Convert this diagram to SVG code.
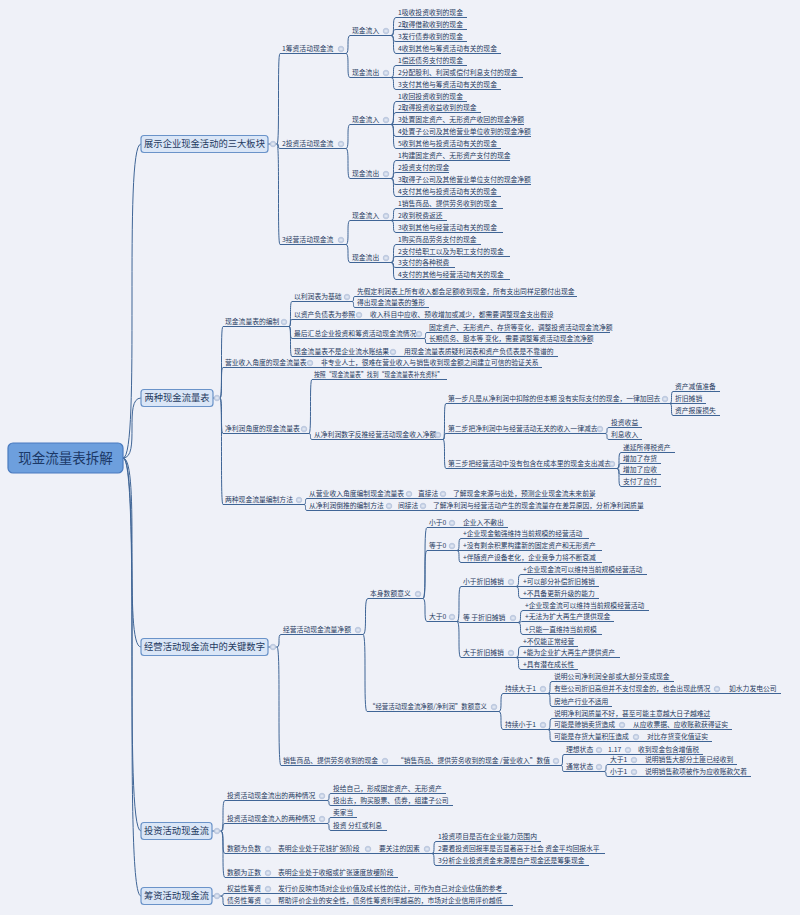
<svg xmlns="http://www.w3.org/2000/svg" width="800" height="915" viewBox="0 0 800 915">
<defs>
<style>
.t{font-family:"Noto Sans CJK SC","Noto Sans",sans-serif;font-size:6.8px;fill:#1f3a60}
.bt{font-family:"Noto Sans CJK SC","Noto Sans",sans-serif;font-size:9.3px;fill:#1f3a60;text-anchor:middle}
.u{stroke:#3f6596;stroke-width:1;fill:none}
.k{stroke:#3f6596;stroke-width:1;fill:none}
.b{fill:#dae6f7;stroke:#6a93c9;stroke-width:1.2}
</style>
<g id="tg"><circle r="2.8" fill="#c8d3e6" stroke="#aab9d3" stroke-width="0.6"/><path d="M-1.4,0H1.4" stroke="#ffffff" stroke-width="0.8"/></g>
</defs>
<rect width="800" height="915" fill="#eff1f8"/>

<g id="connectors" class="k">
<path d="M123,458C141,458 123,144 141,144"/>
<path d="M123,458C141,458 123,398 141,398"/>
<path d="M123,458C141,458 123,647 141,647"/>
<path d="M123,458C141,458 123,831 141,831"/>
<path d="M123,458C141,458 123,896 141,896"/>
<path d="M268,144H277"/>
<path d="M277,144C280,144 277,53.5 280,53.5"/>
<path d="M277,144C280,144 277,148.5 280,148.5"/>
<path d="M277,144C280,144 277,244.5 280,244.5"/>
<path d="M346,53.5C350,53.5 346,35.5 350,35.5"/>
<path d="M346,53.5C350,53.5 346,77.5 350,77.5"/>
<path d="M391,35.5C396,35.5 391,17.5 396,17.5"/>
<path d="M391,35.5C396,35.5 391,29.5 396,29.5"/>
<path d="M391,35.5C396,35.5 391,41.5 396,41.5"/>
<path d="M391,35.5C396,35.5 391,53.5 396,53.5"/>
<path d="M391,77.5C396,77.5 391,65.5 396,65.5"/>
<path d="M391,77.5H396"/>
<path d="M391,77.5C396,77.5 391,89.5 396,89.5"/>
<path d="M346,148.5C350,148.5 346,124.5 350,124.5"/>
<path d="M346,148.5C350,148.5 346,178.5 350,178.5"/>
<path d="M391,124.5C396,124.5 391,101.5 396,101.5"/>
<path d="M391,124.5C396,124.5 391,112.5 396,112.5"/>
<path d="M391,124.5H396"/>
<path d="M391,124.5C396,124.5 391,136.5 396,136.5"/>
<path d="M391,124.5C396,124.5 391,148.5 396,148.5"/>
<path d="M391,178.5C396,178.5 391,160.5 396,160.5"/>
<path d="M391,178.5C396,178.5 391,172.5 396,172.5"/>
<path d="M391,178.5C396,178.5 391,184.5 396,184.5"/>
<path d="M391,178.5C396,178.5 391,196.5 396,196.5"/>
<path d="M346,244.5C350,244.5 346,220.5 350,220.5"/>
<path d="M346,244.5C350,244.5 346,262.5 350,262.5"/>
<path d="M391,220.5C396,220.5 391,208.5 396,208.5"/>
<path d="M391,220.5H396"/>
<path d="M391,220.5C396,220.5 391,232.5 396,232.5"/>
<path d="M391,262.5C396,262.5 391,244.5 396,244.5"/>
<path d="M391,262.5C396,262.5 391,256.5 396,256.5"/>
<path d="M391,262.5C396,262.5 391,267.5 396,267.5"/>
<path d="M391,262.5C396,262.5 391,279.5 396,279.5"/>
<path d="M213,398H220"/>
<path d="M220,398C223,398 220,326.5 223,326.5"/>
<path d="M220,398C223,398 220,367.5 223,367.5"/>
<path d="M220,398C223,398 220,433.5 223,433.5"/>
<path d="M220,398C223,398 220,504.5 223,504.5"/>
<path d="M289,326.5C292,326.5 289,301.5 292,301.5"/>
<path d="M289,326.5C292,326.5 289,319.5 292,319.5"/>
<path d="M289,326.5C292,326.5 289,338.5 292,338.5"/>
<path d="M289,326.5C292,326.5 289,356.5 292,356.5"/>
<path d="M352,301.5C355,301.5 352,296.5 355,296.5"/>
<path d="M352,301.5C355,301.5 352,307.5 355,307.5"/>
<path d="M364,319.5H368"/>
<path d="M424,338.5C427,338.5 424,332.5 427,332.5"/>
<path d="M424,338.5C427,338.5 424,343.5 427,343.5"/>
<path d="M398,356.5H402"/>
<path d="M315,367.5H319"/>
<path d="M309,433.5C312,433.5 309,379.5 312,379.5"/>
<path d="M309,433.5C312,433.5 309,439.5 312,439.5"/>
<path d="M443,439.5C446,439.5 443,403.5 446,403.5"/>
<path d="M443,439.5C446,439.5 443,433.5 446,433.5"/>
<path d="M443,439.5C446,439.5 443,468.5 446,468.5"/>
<path d="M670,403.5C673,403.5 670,391.5 673,391.5"/>
<path d="M670,403.5H673"/>
<path d="M670,403.5C673,403.5 670,415.5 673,415.5"/>
<path d="M605,433.5C609,433.5 605,427.5 609,427.5"/>
<path d="M605,433.5C609,433.5 605,439.5 609,439.5"/>
<path d="M617,468.5C621,468.5 617,452.5 621,452.5"/>
<path d="M617,468.5C621,468.5 617,463.5 621,463.5"/>
<path d="M617,468.5C621,468.5 617,474.5 621,474.5"/>
<path d="M617,468.5C621,468.5 617,486.5 621,486.5"/>
<path d="M304,504.5C307,504.5 304,498.5 307,498.5"/>
<path d="M304,504.5C307,504.5 304,510.5 307,510.5"/>
<path d="M414,498.5H416"/>
<path d="M448,498.5H451"/>
<path d="M394,510.5H396"/>
<path d="M428,510.5H431"/>
<path d="M268,647H277"/>
<path d="M277,647C281,647 277,634.5 281,634.5"/>
<path d="M277,647C281,647 277,765.5 281,765.5"/>
<path d="M363,634.5C368,634.5 363,598.5 368,598.5"/>
<path d="M363,634.5C367,634.5 363,711.5 367,711.5"/>
<path d="M423,598.5C427,598.5 423,527.5 427,527.5"/>
<path d="M423,598.5C427,598.5 423,550.5 427,550.5"/>
<path d="M423,598.5C427,598.5 423,621.5 427,621.5"/>
<path d="M457,527.5H461"/>
<path d="M457,550.5C461,550.5 457,538.5 461,538.5"/>
<path d="M457,550.5H461"/>
<path d="M457,550.5C461,550.5 457,562.5 461,562.5"/>
<path d="M457,621.5C461,621.5 457,586.5 461,586.5"/>
<path d="M457,621.5C461,621.5 457,622.5 461,622.5"/>
<path d="M457,621.5C461,621.5 457,657.5 461,657.5"/>
<path d="M516,586.5C521,586.5 516,574.5 521,574.5"/>
<path d="M516,586.5H521"/>
<path d="M516,586.5C521,586.5 516,598.5 521,598.5"/>
<path d="M518,622.5C523,622.5 518,610.5 523,610.5"/>
<path d="M518,622.5C523,622.5 518,621.5 523,621.5"/>
<path d="M518,622.5C523,622.5 518,634.5 523,634.5"/>
<path d="M516,657.5C521,657.5 516,646.5 521,646.5"/>
<path d="M516,657.5H521"/>
<path d="M516,657.5C521,657.5 516,669.5 521,669.5"/>
<path d="M499,711.5C503,711.5 499,693.5 503,693.5"/>
<path d="M499,711.5C503,711.5 499,729.5 503,729.5"/>
<path d="M548,693.5C552,693.5 548,681.5 552,681.5"/>
<path d="M548,693.5H552"/>
<path d="M548,693.5C552,693.5 548,706.5 552,706.5"/>
<path d="M722,693.5H727"/>
<path d="M548,729.5C552,729.5 548,718.5 552,718.5"/>
<path d="M548,729.5H552"/>
<path d="M548,729.5C552,729.5 548,741.5 552,741.5"/>
<path d="M627,729.5H631"/>
<path d="M641,741.5H645"/>
<path d="M390,765.5H395"/>
<path d="M561,765.5C564,765.5 561,754.5 564,754.5"/>
<path d="M561,765.5C564,765.5 561,771.5 564,771.5"/>
<path d="M604,754.5H606"/>
<path d="M633,754.5H636"/>
<path d="M604,771.5C608,771.5 604,764.5 608,764.5"/>
<path d="M604,771.5C608,771.5 604,776.5 608,776.5"/>
<path d="M639,764.5H643"/>
<path d="M639,776.5H643"/>
<path d="M212,831H221"/>
<path d="M221,831C225,831 221,800.5 225,800.5"/>
<path d="M221,831C225,831 221,823.5 225,823.5"/>
<path d="M221,831C225,831 221,853.5 225,853.5"/>
<path d="M221,831C225,831 221,877.5 225,877.5"/>
<path d="M327,800.5C331,800.5 327,793.5 331,793.5"/>
<path d="M327,800.5C331,800.5 327,805.5 331,805.5"/>
<path d="M327,823.5C331,823.5 327,817.5 331,817.5"/>
<path d="M327,823.5C331,823.5 327,830.5 331,830.5"/>
<path d="M273,853.5H276"/>
<path d="M373,853.5H377"/>
<path d="M432,853.5C436,853.5 432,841.5 436,841.5"/>
<path d="M432,853.5H436"/>
<path d="M432,853.5C436,853.5 432,865.5 436,865.5"/>
<path d="M273,877.5H276"/>
<path d="M212,896H221"/>
<path d="M221,896C225,896 221,893.5 225,893.5"/>
<path d="M221,896C225,896 221,905.5 225,905.5"/>
<path d="M273,893.5H276"/>
<path d="M273,905.5H276"/>
</g>

<g id="root">
<rect x="8" y="443" width="115" height="30" rx="5" fill="#6d9fdd" stroke="#4a7bbf" stroke-width="1.2"/>
<text x="65.5" y="462.8" font-family="Noto Sans CJK SC,Noto Sans,sans-serif" font-size="13.5" fill="#1b3866" text-anchor="middle">现金流量表拆解</text>
</g>

<g id="b1"><rect class="b" x="141" y="135.5" width="127" height="17" rx="3"/><text class="bt" x="204.5" y="147.3">展示企业现金活动的三大板块</text><use href="#tg" x="273" y="144"/></g>
<g id="b2"><rect class="b" x="141" y="389.5" width="72" height="17" rx="3"/><text class="bt" x="177" y="401.3">两种现金流量表</text><use href="#tg" x="217" y="398"/></g>
<g id="b3"><rect class="b" x="141" y="638.5" width="127" height="17" rx="3"/><text class="bt" x="204.5" y="650.3">经营活动现金流中的关键数字</text><use href="#tg" x="273" y="647"/></g>
<g id="b4"><rect class="b" x="141" y="822.5" width="71" height="17" rx="3"/><text class="bt" x="176.5" y="834.3">投资活动现金流</text><use href="#tg" x="217" y="831"/></g>
<g id="b5"><rect class="b" x="141" y="887.5" width="71" height="17" rx="3"/><text class="bt" x="176.5" y="899.3">筹资活动现金流</text><use href="#tg" x="217" y="896"/></g>

<g id="a1"><text class="t" x="282" y="51.4">1筹资活动现金流</text><path class="u" d="M280,53.5H346"/><use href="#tg" x="341" y="49"/></g>
<g id="a1a"><text class="t" x="352" y="33.4">现金流入</text><path class="u" d="M350,35.5H391"/><use href="#tg" x="386" y="31"/></g>
<g id="a1a1"><text class="t" x="398" y="15.4">1吸收投资收到的现金</text><path class="u" d="M396,17.5H467"/></g>
<g id="a1a2"><text class="t" x="398" y="27.4">2取得借款收到的现金</text><path class="u" d="M396,29.5H467"/></g>
<g id="a1a3"><text class="t" x="398" y="39.4">3发行债券收到的现金</text><path class="u" d="M396,41.5H467"/></g>
<g id="a1a4"><text class="t" x="398" y="51.4">4收到其他与筹资活动有关的现金</text><path class="u" d="M396,53.5H501"/></g>
<g id="a1b"><text class="t" x="352" y="75.4">现金流出</text><path class="u" d="M350,77.5H391"/><use href="#tg" x="386" y="73"/></g>
<g id="a1b1"><text class="t" x="398" y="63.4">1偿还债务支付的现金</text><path class="u" d="M396,65.5H467"/></g>
<g id="a1b2"><text class="t" x="398" y="75.4">2分配股利、利润或偿付利息支付的现金</text><path class="u" d="M396,77.5H523"/></g>
<g id="a1b3"><text class="t" x="398" y="87.4">3支付其他与筹资活动有关的现金</text><path class="u" d="M396,89.5H501"/></g>

<g id="a2"><text class="t" x="282" y="146.4">2投资活动现金流</text><path class="u" d="M280,148.5H346"/><use href="#tg" x="341" y="144"/></g>
<g id="a2a"><text class="t" x="352" y="122.4">现金流入</text><path class="u" d="M350,124.5H391"/><use href="#tg" x="386" y="120"/></g>
<g id="a2a1"><text class="t" x="398" y="99.4">1收回投资收到的现金</text><path class="u" d="M396,101.5H467"/></g>
<g id="a2a2"><text class="t" x="398" y="110.4">2取得投资收益收到的现金</text><path class="u" d="M396,112.5H481"/></g>
<g id="a2a3"><text class="t" x="398" y="122.4">3处置固定资产、无形资产收回的现金净额</text><path class="u" d="M396,124.5H524"/></g>
<g id="a2a4"><text class="t" x="398" y="134.4">4处置子公司及其他营业单位收到的现金净额</text><path class="u" d="M396,136.5H531"/></g>
<g id="a2a5"><text class="t" x="398" y="146.4">5收到其他与投资活动有关的现金</text><path class="u" d="M396,148.5H501"/></g>
<g id="a2b"><text class="t" x="352" y="176.4">现金流出</text><path class="u" d="M350,178.5H391"/><use href="#tg" x="386" y="174"/></g>
<g id="a2b1"><text class="t" x="398" y="158.4">1构建固定资产、无形资产支付的现金</text><path class="u" d="M396,160.5H510"/></g>
<g id="a2b2"><text class="t" x="398" y="170.4">2投资支付的现金</text><path class="u" d="M396,172.5H449"/></g>
<g id="a2b3"><text class="t" x="398" y="182.4">3取得子公司及其他营业单位支付的现金净额</text><path class="u" d="M396,184.5H531"/></g>
<g id="a2b4"><text class="t" x="398" y="194.4">4支付其他与投资活动有关的现金</text><path class="u" d="M396,196.5H501"/></g>

<g id="a3"><text class="t" x="282" y="242.4">3经营活动现金流</text><path class="u" d="M280,244.5H346"/><use href="#tg" x="341" y="240"/></g>
<g id="a3a"><text class="t" x="352" y="218.4">现金流入</text><path class="u" d="M350,220.5H391"/><use href="#tg" x="386" y="216"/></g>
<g id="a3a1"><text class="t" x="398" y="206.4">1销售商品、提供劳务收到的现金</text><path class="u" d="M396,208.5H503"/></g>
<g id="a3a2"><text class="t" x="398" y="218.4">2收到税费返还</text><path class="u" d="M396,220.5H447"/></g>
<g id="a3a3"><text class="t" x="398" y="230.4">3收到其他与经营活动有关的现金</text><path class="u" d="M396,232.5H503"/></g>
<g id="a3b"><text class="t" x="352" y="260.4">现金流出</text><path class="u" d="M350,262.5H391"/><use href="#tg" x="386" y="258"/></g>
<g id="a3b1"><text class="t" x="398" y="242.4">1购买商品劳务支付的现金</text><path class="u" d="M396,244.5H481"/></g>
<g id="a3b2"><text class="t" x="398" y="254.4">2支付给职工以及为职工支付的现金</text><path class="u" d="M396,256.5H510"/></g>
<g id="a3b3"><text class="t" x="398" y="265.4">3支付的各种税费</text><path class="u" d="M396,267.5H455"/></g>
<g id="a3b4"><text class="t" x="398" y="277.4">4支付的其他与经营活动有关的现金</text><path class="u" d="M396,279.5H510"/></g>

<g id="bn1"><text class="t" x="225" y="324.4">现金流量表的编制</text><path class="u" d="M223,326.5H289"/><use href="#tg" x="284" y="322"/></g>
<g id="bn1a"><text class="t" x="294" y="299.4">以利润表为基础</text><path class="u" d="M292,301.5H352"/><use href="#tg" x="347" y="297"/></g>
<g id="bn1a1"><text class="t" x="357" y="294.4">先假定利润表上所有收入都会足额收到现金，所有支出同样足额付出现金</text><path class="u" d="M355,296.5H577"/></g>
<g id="bn1a2"><text class="t" x="357" y="305.4">得出现金流量表的雏形</text><path class="u" d="M355,307.5H429"/></g>
<g id="bn1b"><text class="t" x="294" y="317.4">以资产负债表为参照</text><path class="u" d="M292,319.5H364"/><use href="#tg" x="359" y="315"/></g>
<g id="bn1b1"><text class="t" x="370" y="317.4">收入科目中应收、预收增加或减少，都需要调整现金支出假设</text><path class="u" d="M368,319.5H551"/></g>
<g id="bn1c"><text class="t" x="294" y="336.4">最后汇总企业投资和筹资活动现金流情况</text><path class="u" d="M292,338.5H424"/><use href="#tg" x="419" y="334"/></g>
<g id="bn1c1"><text class="t" x="429" y="330.4">固定资产、无形资产、存货等变化，调整投资活动现金流净额</text><path class="u" d="M427,332.5H610"/></g>
<g id="bn1c2"><text class="t" x="429" y="341.4">长期债务、股本等 变化，需要调整筹资活动现金流净额</text><path class="u" d="M427,343.5H592"/></g>
<g id="bn1d"><text class="t" x="294" y="354.4">现金流量表不是企业流水账结果</text><path class="u" d="M292,356.5H398"/><use href="#tg" x="393" y="352"/></g>
<g id="bn1d1"><text class="t" x="404" y="354.4">用现金流量表质疑利润表和资产负债表是不靠谱的</text><path class="u" d="M402,356.5H558"/></g>
<g id="bn2"><text class="t" x="225" y="365.4">营业收入角度的现金流量表</text><path class="u" d="M223,367.5H315"/><use href="#tg" x="310" y="363"/></g>
<g id="bn2a"><text class="t" x="321" y="365.4">非专业人士，很难在营业收入与销售收到现金额之间建立可信的验证关系</text><path class="u" d="M319,367.5H542"/></g>
<g id="bn3"><text class="t" x="225" y="431.4">净利润角度的现金流量表</text><path class="u" d="M223,433.5H309"/><use href="#tg" x="304" y="429"/></g>
<g id="bn3a"><text class="t" x="314" y="377.4" textLength="129" lengthAdjust="spacingAndGlyphs">按照“现金流量表”找到“现金流量表补充资料”</text><path class="u" d="M312,379.5H447"/></g>
<g id="bn3b"><text class="t" x="314" y="437.4">从净利润数字反推经营活动现金收入净额</text><path class="u" d="M312,439.5H443"/><use href="#tg" x="438" y="435"/></g>
<g id="bn3b1"><text class="t" x="448" y="401.4">第一步凡是从净利润中扣除的但本期 没有实际支付的现金，一律加回去</text><path class="u" d="M446,403.5H670"/><use href="#tg" x="665" y="399"/></g>
<g id="bn3b1a"><text class="t" x="675" y="389.4">资产减值准备</text><path class="u" d="M673,391.5H720"/></g>
<g id="bn3b1b"><text class="t" x="675" y="401.4">折旧摊销</text><path class="u" d="M673,403.5H706"/></g>
<g id="bn3b1c"><text class="t" x="675" y="413.4">资产报废损失</text><path class="u" d="M673,415.5H720"/></g>
<g id="bn3b2"><text class="t" x="448" y="431.4">第二步把净利润中与经营活动无关的收入一律减去</text><path class="u" d="M446,433.5H605"/><use href="#tg" x="600" y="429"/></g>
<g id="bn3b2a"><text class="t" x="611" y="425.4">投资收益</text><path class="u" d="M609,427.5H642"/></g>
<g id="bn3b2b"><text class="t" x="611" y="437.4">利息收入</text><path class="u" d="M609,439.5H642"/></g>
<g id="bn3b3"><text class="t" x="448" y="466.4">第三步把经营活动中没有包含在成本里的现金支出减去</text><path class="u" d="M446,468.5H617"/><use href="#tg" x="612" y="464"/></g>
<g id="bn3b3a"><text class="t" x="623" y="450.4">递延所得税资产</text><path class="u" d="M621,452.5H675"/></g>
<g id="bn3b3b"><text class="t" x="623" y="461.4">增加了存货</text><path class="u" d="M621,463.5H661"/></g>
<g id="bn3b3c"><text class="t" x="623" y="472.4">增加了应收</text><path class="u" d="M621,474.5H661"/></g>
<g id="bn3b3d"><text class="t" x="623" y="484.4">支付了应付</text><path class="u" d="M621,486.5H661"/></g>
<g id="bn4"><text class="t" x="225" y="502.4">两种现金流量编制方法</text><path class="u" d="M223,504.5H304"/><use href="#tg" x="299" y="500"/></g>
<g id="bn4a"><text class="t" x="309" y="496.4">从营业收入角度编制现金流量表</text><path class="u" d="M307,498.5H414"/><use href="#tg" x="409" y="494"/></g>
<g id="bn4a1"><text class="t" x="418" y="496.4">直接法</text><path class="u" d="M416,498.5H448"/><use href="#tg" x="443" y="494"/></g>
<g id="bn4a2"><text class="t" x="453" y="496.4">了解现金来源与出处，预测企业现金流未来前景</text><path class="u" d="M451,498.5H593"/></g>
<g id="bn4b"><text class="t" x="309" y="508.4">从净利润倒推的编制方法</text><path class="u" d="M307,510.5H394"/><use href="#tg" x="389" y="506"/></g>
<g id="bn4b1"><text class="t" x="398" y="508.4">间接法</text><path class="u" d="M396,510.5H428"/><use href="#tg" x="423" y="506"/></g>
<g id="bn4b2"><text class="t" x="433" y="508.4">了解净利润与经营活动产生的现金流量存在差异原因，分析净利润质量</text><path class="u" d="M431,510.5H639"/></g>

<g id="c1"><text class="t" x="283" y="632.4">经营活动现金流量净额</text><path class="u" d="M281,634.5H363"/><use href="#tg" x="358" y="630"/></g>
<g id="c1a"><text class="t" x="370" y="596.4">本身数额意义</text><path class="u" d="M368,598.5H423"/><use href="#tg" x="418" y="594"/></g>
<g id="c1a1"><text class="t" x="429" y="525.4">小于0</text><path class="u" d="M427,527.5H457"/><use href="#tg" x="452" y="523"/></g>
<g id="c1a1a"><text class="t" x="463" y="525.4">企业入不敷出</text><path class="u" d="M461,527.5H508"/></g>
<g id="c1a2"><text class="t" x="429" y="548.4">等于0</text><path class="u" d="M427,550.5H457"/><use href="#tg" x="452" y="546"/></g>
<g id="c1a2a"><text class="t" x="463" y="536.4">+企业现金勉强维持当前规模的经营活动</text><path class="u" d="M461,538.5H589"/></g>
<g id="c1a2b"><text class="t" x="463" y="548.4">+没有剩余积累构建新的固定资产和无形资产</text><path class="u" d="M461,550.5H602"/></g>
<g id="c1a2c"><text class="t" x="463" y="560.4">+伴随资产设备老化，企业竞争力将不断衰减</text><path class="u" d="M461,562.5H602"/></g>
<g id="c1a3"><text class="t" x="429" y="619.4">大于0</text><path class="u" d="M427,621.5H457"/><use href="#tg" x="452" y="617"/></g>
<g id="c1a3a"><text class="t" x="463" y="584.4">小于折旧摊销</text><path class="u" d="M461,586.5H516"/><use href="#tg" x="511" y="582"/></g>
<g id="c1a3a1"><text class="t" x="523" y="572.4">+企业现金流可以维持当前规模经营活动</text><path class="u" d="M521,574.5H647"/></g>
<g id="c1a3a2"><text class="t" x="523" y="584.4">+可以部分补偿折旧摊销</text><path class="u" d="M521,586.5H599"/></g>
<g id="c1a3a3"><text class="t" x="523" y="596.4">+不具备更新升级的能力</text><path class="u" d="M521,598.5H599"/></g>
<g id="c1a3b"><text class="t" x="463" y="620.4">等 于折旧摊销</text><path class="u" d="M461,622.5H518"/><use href="#tg" x="513" y="618"/></g>
<g id="c1a3b1"><text class="t" x="525" y="608.4">+企业现金流可以维持当前规模经营活动</text><path class="u" d="M523,610.5H649"/></g>
<g id="c1a3b2"><text class="t" x="525" y="619.4">+无法为扩大再生产提供现金</text><path class="u" d="M523,621.5H614"/></g>
<g id="c1a3b3"><text class="t" x="525" y="632.4">+只能一直维持当前规模</text><path class="u" d="M523,634.5H602"/></g>
<g id="c1a3c"><text class="t" x="463" y="655.4">大于折旧摊销</text><path class="u" d="M461,657.5H516"/><use href="#tg" x="511" y="653"/></g>
<g id="c1a3c1"><text class="t" x="523" y="644.4">+不仅能正常经营</text><path class="u" d="M521,646.5H578"/></g>
<g id="c1a3c2"><text class="t" x="523" y="655.4">+能为企业扩大再生产提供资产</text><path class="u" d="M521,657.5H620"/></g>
<g id="c1a3c3"><text class="t" x="523" y="667.4">+具有潜在成长性</text><path class="u" d="M521,669.5H578"/></g>
<g id="c1b"><text class="t" x="369" y="709.4" textLength="118" lengthAdjust="spacingAndGlyphs">“经营活动现金流净额/净利润”数额意义</text><path class="u" d="M367,711.5H499"/><use href="#tg" x="494" y="707"/></g>
<g id="c1b1"><text class="t" x="505" y="691.4">持续大于1</text><path class="u" d="M503,693.5H548"/><use href="#tg" x="543" y="689"/></g>
<g id="c1b1a"><text class="t" x="554" y="679.4">说明公司净利润全部或大部分变成现金</text><path class="u" d="M552,681.5H674"/></g>
<g id="c1b1b"><text class="t" x="554" y="691.4">有些公司折旧高但并不支付现金的，也会出现此情况</text><path class="u" d="M552,693.5H722"/><use href="#tg" x="717" y="689"/></g>
<g id="c1b1b1"><text class="t" x="729" y="691.4">如水力发电公司</text><path class="u" d="M727,693.5H781"/></g>
<g id="c1b1c"><text class="t" x="554" y="704.4">房地产行业不适用</text><path class="u" d="M552,706.5H612"/></g>
<g id="c1b2"><text class="t" x="505" y="727.4">持续小于1</text><path class="u" d="M503,729.5H548"/><use href="#tg" x="543" y="725"/></g>
<g id="c1b2a"><text class="t" x="554" y="716.4">说明净利润质量不好，甚至可能主意越大日子越难过</text><path class="u" d="M552,718.5H710"/></g>
<g id="c1b2b"><text class="t" x="554" y="727.4">可能是赊销卖货造成</text><path class="u" d="M552,729.5H627"/><use href="#tg" x="622" y="725"/></g>
<g id="c1b2b1"><text class="t" x="633" y="727.4">从应收票据、应收账款获得证实</text><path class="u" d="M631,729.5H732"/></g>
<g id="c1b2c"><text class="t" x="554" y="739.4">可能是存货大量积压造成</text><path class="u" d="M552,741.5H641"/><use href="#tg" x="636" y="737"/></g>
<g id="c1b2c1"><text class="t" x="647" y="739.4">对比存货变化值证实</text><path class="u" d="M645,741.5H712"/></g>
<g id="c2"><text class="t" x="283" y="763.4">销售商品、提供劳务收到的现金</text><path class="u" d="M281,765.5H390"/><use href="#tg" x="385" y="761"/></g>
<g id="c2a"><text class="t" x="397" y="763.4" textLength="153" lengthAdjust="spacingAndGlyphs">“销售商品、提供劳务收到的现金 /营业收入”数值</text><path class="u" d="M395,765.5H561"/><use href="#tg" x="556" y="761"/></g>
<g id="c2a1"><text class="t" x="566" y="752.4">理想状态</text><path class="u" d="M564,754.5H604"/><use href="#tg" x="599" y="750"/></g>
<g id="c2a1a"><text class="t" x="608" y="752.4">1.17</text><path class="u" d="M606,754.5H633"/><use href="#tg" x="628" y="750"/></g>
<g id="c2a1b"><text class="t" x="638" y="752.4">收到现金包含增值税</text><path class="u" d="M636,754.5H703"/></g>
<g id="c2a2"><text class="t" x="566" y="769.4">通常状态</text><path class="u" d="M564,771.5H604"/><use href="#tg" x="599" y="767"/></g>
<g id="c2a2a"><text class="t" x="610" y="762.4">大于1</text><path class="u" d="M608,764.5H639"/><use href="#tg" x="634" y="760"/></g>
<g id="c2a2a1"><text class="t" x="645" y="762.4">说明销售大部分土匪已经收到</text><path class="u" d="M643,764.5H737"/></g>
<g id="c2a2b"><text class="t" x="610" y="774.4">小于1</text><path class="u" d="M608,776.5H639"/><use href="#tg" x="634" y="772"/></g>
<g id="c2a2b1"><text class="t" x="645" y="774.4">说明销售款项被作为应收账款欠着</text><path class="u" d="M643,776.5H751"/></g>

<g id="d1"><text class="t" x="227" y="798.4">投资活动现金流出的两种情况</text><path class="u" d="M225,800.5H327"/><use href="#tg" x="322" y="796"/></g>
<g id="d1a"><text class="t" x="333" y="791.4">投给自己，形成固定资产、无形资产</text><path class="u" d="M331,793.5H446"/></g>
<g id="d1b"><text class="t" x="333" y="803.4">投出去，购买股票、债券，组建子公司</text><path class="u" d="M331,805.5H453"/></g>
<g id="d2"><text class="t" x="227" y="821.4">投资活动现金流入的两种情况</text><path class="u" d="M225,823.5H327"/><use href="#tg" x="322" y="819"/></g>
<g id="d2a"><text class="t" x="333" y="815.4">卖家当</text><path class="u" d="M331,817.5H357"/></g>
<g id="d2b"><text class="t" x="333" y="828.4">投资 分红或利息</text><path class="u" d="M331,830.5H387"/></g>
<g id="d3"><text class="t" x="227" y="851.4">数额为负数</text><path class="u" d="M225,853.5H273"/><use href="#tg" x="268" y="849"/></g>
<g id="d3a"><text class="t" x="278" y="851.4">表明企业处于花钱扩张阶段</text><path class="u" d="M276,853.5H373"/><use href="#tg" x="368" y="849"/></g>
<g id="d3b"><text class="t" x="379" y="851.4">要关注的因素</text><path class="u" d="M377,853.5H432"/><use href="#tg" x="427" y="849"/></g>
<g id="d3b1"><text class="t" x="438" y="839.4">1投资项目是否在企业能力范围内</text><path class="u" d="M436,841.5H541"/></g>
<g id="d3b2"><text class="t" x="438" y="851.4">2要看投资回报率是否显著高于社会 资金平均回报水平</text><path class="u" d="M436,853.5H605"/></g>
<g id="d3b3"><text class="t" x="438" y="863.4">3分析企业投资资金来源是自产现金还是筹集现金</text><path class="u" d="M436,865.5H589"/></g>
<g id="d4"><text class="t" x="227" y="875.4">数额为正数</text><path class="u" d="M225,877.5H273"/><use href="#tg" x="268" y="873"/></g>
<g id="d4a"><text class="t" x="278" y="875.4">表明企业处于收缩或扩张速度放缓阶段</text><path class="u" d="M276,877.5H398"/></g>

<g id="e1"><text class="t" x="227" y="891.4">权益性筹资</text><path class="u" d="M225,893.5H273"/><use href="#tg" x="268" y="889"/></g>
<g id="e1a"><text class="t" x="278" y="891.4">发行价反映市场对企业价值及成长性的估计，可作为自己对企业估值的参考</text><path class="u" d="M276,893.5H507"/></g>
<g id="e2"><text class="t" x="227" y="903.4">债务性筹资</text><path class="u" d="M225,905.5H273"/><use href="#tg" x="268" y="901"/></g>
<g id="e2a"><text class="t" x="278" y="903.4">帮助评价企业的安全性，债务性筹资利率越高的，市场对企业信用评价越低</text><path class="u" d="M276,905.5H513"/></g>
</svg>
